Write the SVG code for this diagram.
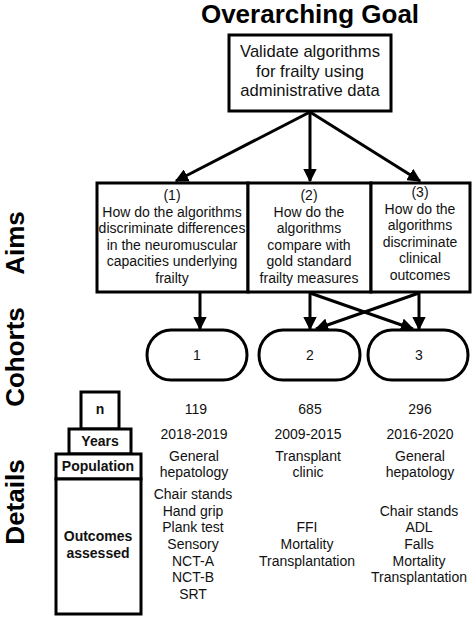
<svg xmlns="http://www.w3.org/2000/svg" width="474" height="617" viewBox="0 0 474 617">
<style>
.box{fill:#fff;stroke:#000;stroke-width:3}
.ln{fill:none;stroke:#000;stroke-width:3}
.t{font-family:"Liberation Sans",Arial,sans-serif;font-size:14px;fill:#111;text-anchor:middle}
.g{font-family:"Liberation Sans",Arial,sans-serif;font-size:16.6px;fill:#111;text-anchor:middle}
.b{font-family:"Liberation Sans",Arial,sans-serif;font-size:14px;font-weight:bold;fill:#111;text-anchor:middle}
.h{font-family:"Liberation Sans",Arial,sans-serif;font-size:26px;font-weight:bold;fill:#000;text-anchor:middle}
</style>
<defs>
<marker id="ah" viewBox="0 0 10 10" refX="9" refY="5" markerWidth="4.5" markerHeight="4.5" markerUnits="strokeWidth" orient="auto">
<path d="M0,0 L10,5 L0,10 z" fill="#000"/>
</marker>
</defs>
<text class="h" x="310" y="23">Overarching Goal</text>
<text class="h" transform="translate(24,243) rotate(-90)">Aims</text>
<text class="h" transform="translate(24,357) rotate(-90)">Cohorts</text>
<text class="h" transform="translate(24,502) rotate(-90)">Details</text>
<g id="goal">
<rect class="box" x="229" y="35" width="162" height="76"/>
<text class="g" x="310" y="57">Validate algorithms</text>
<text class="g" x="310" y="77">for frailty using</text>
<text class="g" x="310" y="96">administrative data</text>
</g>
<g id="aims">
<rect class="box" x="97" y="183" width="151" height="109"/>
<rect class="box" x="248" y="183" width="123" height="109"/>
<rect class="box" x="371" y="183" width="99" height="109"/>
</g>
<g id="aim1">
<text class="t" x="172" y="200">(1)</text>
<text class="t" x="172" y="217">How do the algorithms</text>
<text class="t" x="172" y="233">discriminate differences</text>
<text class="t" x="172" y="250">in the neuromuscular</text>
<text class="t" x="172" y="266">capacities underlying</text>
<text class="t" x="172" y="283">frailty</text>
</g>
<g id="aim2">
<text class="t" x="309" y="200">(2)</text>
<text class="t" x="309" y="217">How do the</text>
<text class="t" x="309" y="233">algorithms</text>
<text class="t" x="309" y="250">compare with</text>
<text class="t" x="309" y="266">gold standard</text>
<text class="t" x="309" y="283">frailty measures</text>
</g>
<g id="aim3">
<text class="t" x="420" y="197">(3)</text>
<text class="t" x="420" y="214">How do the</text>
<text class="t" x="420" y="230">algorithms</text>
<text class="t" x="420" y="247">discriminate</text>
<text class="t" x="420" y="263">clinical</text>
<text class="t" x="420" y="280">outcomes</text>
</g>
<g id="connectors">
<line class="ln" x1="310" y1="112" x2="176" y2="181" marker-end="url(#ah)"/>
<line class="ln" x1="310" y1="112" x2="310" y2="181" marker-end="url(#ah)"/>
<line class="ln" x1="310" y1="112" x2="420" y2="181" marker-end="url(#ah)"/>
<line class="ln" x1="200" y1="293" x2="200" y2="329" marker-end="url(#ah)"/>
<line class="ln" x1="310" y1="293" x2="310" y2="329" marker-end="url(#ah)"/>
<line class="ln" x1="419" y1="293" x2="419" y2="329" marker-end="url(#ah)"/>
<line class="ln" x1="310" y1="293" x2="413" y2="329" marker-end="url(#ah)"/>
<line class="ln" x1="419" y1="293" x2="316" y2="329" marker-end="url(#ah)"/>
</g>
<g id="cohort1">
<rect class="box" x="147" y="330" width="100" height="50" rx="24" ry="25"/>
<text class="t" x="197" y="360">1</text>
</g>
<g id="cohort2">
<rect class="box" x="259" y="330" width="101" height="50" rx="24" ry="25"/>
<text class="t" x="310" y="360">2</text>
</g>
<g id="cohort3">
<rect class="box" x="368" y="330" width="100" height="50" rx="24" ry="25"/>
<text class="t" x="419" y="360">3</text>
</g>
<g id="details-legend">
<rect class="box" x="81" y="392" width="38" height="37"/>
<rect class="box" x="69" y="429" width="62" height="25"/>
<rect class="box" x="56" y="454" width="85" height="25"/>
<rect class="box" x="56" y="479" width="85" height="135"/>
<text class="b" x="100" y="414">n</text>
<text class="b" x="100" y="446">Years</text>
<text class="b" x="98" y="471">Population</text>
<text class="b" x="98" y="541">Outcomes</text>
<text class="b" x="98" y="558">assessed</text>
</g>
<g id="details1">
<text class="t" x="196" y="414">119</text>
<text class="t" x="194" y="439">2018-2019</text>
<text class="t" x="194" y="461">General</text>
<text class="t" x="194" y="477">hepatology</text>
<text class="t" x="193" y="499">Chair stands</text>
<text class="t" x="193" y="516">Hand grip</text>
<text class="t" x="193" y="532">Plank test</text>
<text class="t" x="193" y="549">Sensory</text>
<text class="t" x="193" y="566">NCT-A</text>
<text class="t" x="193" y="582">NCT-B</text>
<text class="t" x="193" y="599">SRT</text>
</g>
<g id="details2">
<text class="t" x="310" y="414">685</text>
<text class="t" x="308" y="439">2009-2015</text>
<text class="t" x="308" y="461">Transplant</text>
<text class="t" x="308" y="477">clinic</text>
<text class="t" x="307" y="532">FFI</text>
<text class="t" x="307" y="549">Mortality</text>
<text class="t" x="307" y="566">Transplantation</text>
</g>
<g id="details3">
<text class="t" x="420" y="414">296</text>
<text class="t" x="420" y="439">2016-2020</text>
<text class="t" x="420" y="461">General</text>
<text class="t" x="420" y="477">hepatology</text>
<text class="t" x="419" y="516">Chair stands</text>
<text class="t" x="419" y="532">ADL</text>
<text class="t" x="419" y="549">Falls</text>
<text class="t" x="419" y="566">Mortality</text>
<text class="t" x="419" y="582">Transplantation</text>
</g>
</svg>
